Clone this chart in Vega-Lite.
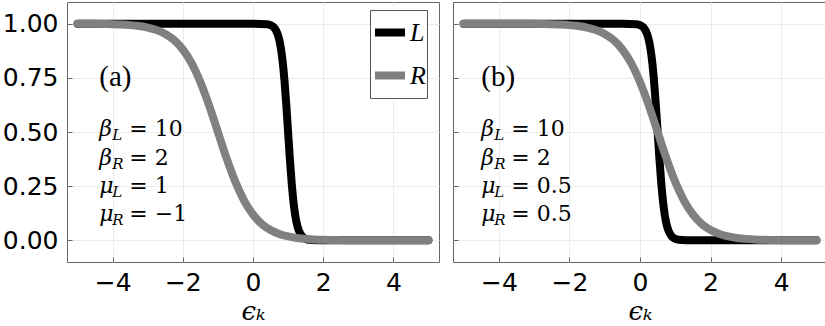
{
  "$schema": "https://vega.github.io/schema/vega-lite/v6.json",
  "padding": {"left": 1, "top": 1, "right": 0, "bottom": 0},
  "spacing": 12,
  "config": {
    "view": {"stroke": "#666", "strokeWidth": 1},
    "axis": {
      "domain": false,
      "grid": true,
      "gridColor": "#ececec",
      "gridWidth": 1,
      "tickColor": "#666",
      "tickSize": -5,
      "labelFont": "DejaVu Sans",
      "labelFontSize": 25,
      "labelColor": "#000",
      "titleFont": "DejaVu Serif",
      "titleFontStyle": "italic",
      "titleFontWeight": "normal",
      "titleFontSize": 26,
      "titleColor": "#000"
    }
  },
  "datasets": {
    "curves": [
      {"p":"a","s":"L","x":-5,"y":1},{"p":"a","s":"L","x":0,"y":0.99995},{"p":"a","s":"L","x":0.4,"y":0.99753},{"p":"a","s":"L","x":0.5,"y":0.99331},{"p":"a","s":"L","x":0.6,"y":0.98201},{"p":"a","s":"L","x":0.7,"y":0.95257},{"p":"a","s":"L","x":0.75,"y":0.92414},{"p":"a","s":"L","x":0.8,"y":0.8808},{"p":"a","s":"L","x":0.85,"y":0.81757},{"p":"a","s":"L","x":0.9,"y":0.73106},{"p":"a","s":"L","x":0.95,"y":0.62246},{"p":"a","s":"L","x":1,"y":0.5},{"p":"a","s":"L","x":1.05,"y":0.37754},{"p":"a","s":"L","x":1.1,"y":0.26894},{"p":"a","s":"L","x":1.15,"y":0.18243},{"p":"a","s":"L","x":1.2,"y":0.1192},{"p":"a","s":"L","x":1.25,"y":0.07586},{"p":"a","s":"L","x":1.3,"y":0.04743},{"p":"a","s":"L","x":1.4,"y":0.01799},{"p":"a","s":"L","x":1.5,"y":0.00669},{"p":"a","s":"L","x":1.6,"y":0.00247},{"p":"a","s":"L","x":2,"y":0.00005},{"p":"a","s":"L","x":5,"y":0},
      {"p":"b","s":"L","x":-5,"y":1},{"p":"b","s":"L","x":-0.5,"y":0.99995},{"p":"b","s":"L","x":-0.1,"y":0.99753},{"p":"b","s":"L","x":0,"y":0.99331},{"p":"b","s":"L","x":0.1,"y":0.98201},{"p":"b","s":"L","x":0.2,"y":0.95257},{"p":"b","s":"L","x":0.25,"y":0.92414},{"p":"b","s":"L","x":0.3,"y":0.8808},{"p":"b","s":"L","x":0.35,"y":0.81757},{"p":"b","s":"L","x":0.4,"y":0.73106},{"p":"b","s":"L","x":0.45,"y":0.62246},{"p":"b","s":"L","x":0.5,"y":0.5},{"p":"b","s":"L","x":0.55,"y":0.37754},{"p":"b","s":"L","x":0.6,"y":0.26894},{"p":"b","s":"L","x":0.65,"y":0.18243},{"p":"b","s":"L","x":0.7,"y":0.1192},{"p":"b","s":"L","x":0.75,"y":0.07586},{"p":"b","s":"L","x":0.8,"y":0.04743},{"p":"b","s":"L","x":0.9,"y":0.01799},{"p":"b","s":"L","x":1,"y":0.00669},{"p":"b","s":"L","x":1.1,"y":0.00247},{"p":"b","s":"L","x":1.5,"y":0.00005},{"p":"b","s":"L","x":5,"y":0},
      {"p":"a","s":"R","x":-5,"y":0.99966},{"p":"a","s":"R","x":-4.75,"y":0.99945},{"p":"a","s":"R","x":-4.5,"y":0.99909},{"p":"a","s":"R","x":-4.25,"y":0.9985},{"p":"a","s":"R","x":-4,"y":0.99753},{"p":"a","s":"R","x":-3.75,"y":0.99593},{"p":"a","s":"R","x":-3.5,"y":0.99331},{"p":"a","s":"R","x":-3.25,"y":0.98901},{"p":"a","s":"R","x":-3,"y":0.98201},{"p":"a","s":"R","x":-2.75,"y":0.97069},{"p":"a","s":"R","x":-2.5,"y":0.95257},{"p":"a","s":"R","x":-2.25,"y":0.92414},{"p":"a","s":"R","x":-2,"y":0.8808},{"p":"a","s":"R","x":-1.75,"y":0.81757},{"p":"a","s":"R","x":-1.5,"y":0.73106},{"p":"a","s":"R","x":-1.25,"y":0.62246},{"p":"a","s":"R","x":-1,"y":0.5},{"p":"a","s":"R","x":-0.75,"y":0.37754},{"p":"a","s":"R","x":-0.5,"y":0.26894},{"p":"a","s":"R","x":-0.25,"y":0.18243},{"p":"a","s":"R","x":0,"y":0.1192},{"p":"a","s":"R","x":0.25,"y":0.07586},{"p":"a","s":"R","x":0.5,"y":0.04743},{"p":"a","s":"R","x":0.75,"y":0.02931},{"p":"a","s":"R","x":1,"y":0.01799},{"p":"a","s":"R","x":1.25,"y":0.01099},{"p":"a","s":"R","x":1.5,"y":0.00669},{"p":"a","s":"R","x":1.75,"y":0.00407},{"p":"a","s":"R","x":2,"y":0.00247},{"p":"a","s":"R","x":2.25,"y":0.0015},{"p":"a","s":"R","x":2.5,"y":0.00091},{"p":"a","s":"R","x":2.75,"y":0.00055},{"p":"a","s":"R","x":3,"y":0.00034},{"p":"a","s":"R","x":3.25,"y":0.0002},{"p":"a","s":"R","x":3.5,"y":0.00012},{"p":"a","s":"R","x":3.75,"y":0.00007},{"p":"a","s":"R","x":4,"y":0.00005},{"p":"a","s":"R","x":4.25,"y":0.00003},{"p":"a","s":"R","x":4.5,"y":0.00002},{"p":"a","s":"R","x":4.75,"y":0.00001},{"p":"a","s":"R","x":5,"y":0.00001},
      {"p":"b","s":"R","x":-5,"y":0.99998},{"p":"b","s":"R","x":-4.75,"y":0.99997},{"p":"b","s":"R","x":-4.5,"y":0.99995},{"p":"b","s":"R","x":-4.25,"y":0.99993},{"p":"b","s":"R","x":-4,"y":0.99988},{"p":"b","s":"R","x":-3.75,"y":0.9998},{"p":"b","s":"R","x":-3.5,"y":0.99966},{"p":"b","s":"R","x":-3.25,"y":0.99945},{"p":"b","s":"R","x":-3,"y":0.99909},{"p":"b","s":"R","x":-2.75,"y":0.9985},{"p":"b","s":"R","x":-2.5,"y":0.99753},{"p":"b","s":"R","x":-2.25,"y":0.99593},{"p":"b","s":"R","x":-2,"y":0.99331},{"p":"b","s":"R","x":-1.75,"y":0.9889},{"p":"b","s":"R","x":-1.5,"y":0.98201},{"p":"b","s":"R","x":-1.25,"y":0.97069},{"p":"b","s":"R","x":-1,"y":0.95257},{"p":"b","s":"R","x":-0.75,"y":0.92414},{"p":"b","s":"R","x":-0.5,"y":0.8808},{"p":"b","s":"R","x":-0.25,"y":0.81757},{"p":"b","s":"R","x":0,"y":0.73106},{"p":"b","s":"R","x":0.25,"y":0.62246},{"p":"b","s":"R","x":0.5,"y":0.5},{"p":"b","s":"R","x":0.75,"y":0.37754},{"p":"b","s":"R","x":1,"y":0.26894},{"p":"b","s":"R","x":1.25,"y":0.18243},{"p":"b","s":"R","x":1.5,"y":0.1192},{"p":"b","s":"R","x":1.75,"y":0.07586},{"p":"b","s":"R","x":2,"y":0.04743},{"p":"b","s":"R","x":2.25,"y":0.02931},{"p":"b","s":"R","x":2.5,"y":0.01799},{"p":"b","s":"R","x":2.75,"y":0.01099},{"p":"b","s":"R","x":3,"y":0.00669},{"p":"b","s":"R","x":3.25,"y":0.00407},{"p":"b","s":"R","x":3.5,"y":0.00247},{"p":"b","s":"R","x":3.75,"y":0.0015},{"p":"b","s":"R","x":4,"y":0.00091},{"p":"b","s":"R","x":4.25,"y":0.00055},{"p":"b","s":"R","x":4.5,"y":0.00034},{"p":"b","s":"R","x":4.75,"y":0.0002},{"p":"b","s":"R","x":5,"y":0.00012}
    ],
    "tags": [
      {"p":"a","x":-4.38,"y":0.756,"t":"(a)"},
      {"p":"b","x":-4.5,"y":0.756,"t":"(b)"}
    ],
    "math": [
      {"p":"a","x":-4.38,"y":0.481,"sym":"β","sub":"L","rest":"= 10"},
      {"p":"a","x":-4.38,"y":0.35,"sym":"β","sub":"R","rest":"= 2"},
      {"p":"a","x":-4.38,"y":0.22,"sym":"μ","sub":"L","rest":"= 1"},
      {"p":"a","x":-4.38,"y":0.089,"sym":"μ","sub":"R","rest":"= −1"},
      {"p":"b","x":-4.5,"y":0.481,"sym":"β","sub":"L","rest":"= 10"},
      {"p":"b","x":-4.5,"y":0.35,"sym":"β","sub":"R","rest":"= 2"},
      {"p":"b","x":-4.5,"y":0.22,"sym":"μ","sub":"L","rest":"= 0.5"},
      {"p":"b","x":-4.5,"y":0.089,"sym":"μ","sub":"R","rest":"= 0.5"}
    ]
  },
  "resolve": {"scale": {"color": "independent"}, "legend": {"color": "independent"}},
  "hconcat": [
    {
      "width": 372,
      "height": 260,
      "encoding": {
        "x": {"field": "x", "type": "quantitative", "scale": {"domain": [-5.3, 5.3], "nice": false, "zero": false},
              "axis": {"values": [-4, -2, 0, 2, 4], "format": "~g", "labelPadding": 13, "title": "ϵₖ", "titlePadding": 3}},
        "y": {"field": "y", "type": "quantitative", "scale": {"domain": [-0.1, 1.1], "nice": false, "zero": false},
              "axis": {"values": [0, 0.25, 0.5, 0.75, 1], "format": ".2f", "labelPadding": 14, "title": null}}
      },
      "layer": [
        {
          "data": {"name": "curves"},
          "transform": [{"filter": "datum.p === 'a'"}],
          "mark": {"type": "line", "strokeWidth": 8, "strokeCap": "round", "strokeJoin": "round", "interpolate": "monotone"},
          "encoding": {
            "color": {"field": "s", "type": "nominal", "scale": {"domain": ["L", "R"], "range": ["#000000", "#808080"]},
                      "legend": {"title": null, "orient": "none", "legendX": 303, "legendY": 8, "strokeColor": "#555", "fillColor": "white", "padding": 1,
                                 "symbolType": "stroke", "symbolStrokeWidth": 8, "symbolSize": 900, "labelFont": "Liberation Serif",
                                 "labelFontStyle": "italic", "labelFontSize": 26, "labelOffset": 1, "clipHeight": 43, "rowPadding": 0, "labelColor": "#000"}}
          }
        },
        {
          "data": {"name": "tags"},
          "transform": [{"filter": "datum.p === 'a'"}],
          "mark": {"type": "text", "align": "left", "baseline": "middle", "font": "Liberation Serif", "fontSize": 29},
          "encoding": {"text": {"field": "t"}}
        },
        {
          "data": {"name": "math"},
          "transform": [{"filter": "datum.p === 'a'"}],
          "mark": {"type": "text", "align": "left", "baseline": "alphabetic", "font": "DejaVu Serif", "fontStyle": "italic", "fontSize": 22},
          "encoding": {"text": {"field": "sym"}}
        },
        {
          "data": {"name": "math"},
          "transform": [{"filter": "datum.p === 'a'"}],
          "mark": {"type": "text", "align": "left", "baseline": "alphabetic", "font": "DejaVu Serif", "fontStyle": "italic", "fontSize": 15, "dx": 13, "dy": 4},
          "encoding": {"text": {"field": "sub"}}
        },
        {
          "data": {"name": "math"},
          "transform": [{"filter": "datum.p === 'a'"}],
          "mark": {"type": "text", "align": "left", "baseline": "alphabetic", "font": "DejaVu Serif", "fontSize": 22, "dx": 30},
          "encoding": {"text": {"field": "rest"}}
        }
      ]
    },
    {
      "width": 374,
      "height": 260,
      "encoding": {
        "x": {"field": "x", "type": "quantitative", "scale": {"domain": [-5.3, 5.3], "nice": false, "zero": false},
              "axis": {"values": [-4, -2, 0, 2, 4], "format": "~g", "labelPadding": 13, "title": "ϵₖ", "titlePadding": 3}},
        "y": {"field": "y", "type": "quantitative", "scale": {"domain": [-0.1, 1.1], "nice": false, "zero": false},
              "axis": {"values": [0, 0.25, 0.5, 0.75, 1], "labels": false, "title": null}}
      },
      "layer": [
        {
          "data": {"name": "curves"},
          "transform": [{"filter": "datum.p === 'b'"}],
          "mark": {"type": "line", "strokeWidth": 8, "strokeCap": "round", "strokeJoin": "round", "interpolate": "monotone"},
          "encoding": {
            "color": {"field": "s", "type": "nominal", "scale": {"domain": ["L", "R"], "range": ["#000000", "#808080"]}, "legend": null}
          }
        },
        {
          "data": {"name": "tags"},
          "transform": [{"filter": "datum.p === 'b'"}],
          "mark": {"type": "text", "align": "left", "baseline": "middle", "font": "Liberation Serif", "fontSize": 29},
          "encoding": {"text": {"field": "t"}}
        },
        {
          "data": {"name": "math"},
          "transform": [{"filter": "datum.p === 'b'"}],
          "mark": {"type": "text", "align": "left", "baseline": "alphabetic", "font": "DejaVu Serif", "fontStyle": "italic", "fontSize": 22},
          "encoding": {"text": {"field": "sym"}}
        },
        {
          "data": {"name": "math"},
          "transform": [{"filter": "datum.p === 'b'"}],
          "mark": {"type": "text", "align": "left", "baseline": "alphabetic", "font": "DejaVu Serif", "fontStyle": "italic", "fontSize": 15, "dx": 13, "dy": 4},
          "encoding": {"text": {"field": "sub"}}
        },
        {
          "data": {"name": "math"},
          "transform": [{"filter": "datum.p === 'b'"}],
          "mark": {"type": "text", "align": "left", "baseline": "alphabetic", "font": "DejaVu Serif", "fontSize": 22, "dx": 30},
          "encoding": {"text": {"field": "rest"}}
        }
      ]
    }
  ]
}
